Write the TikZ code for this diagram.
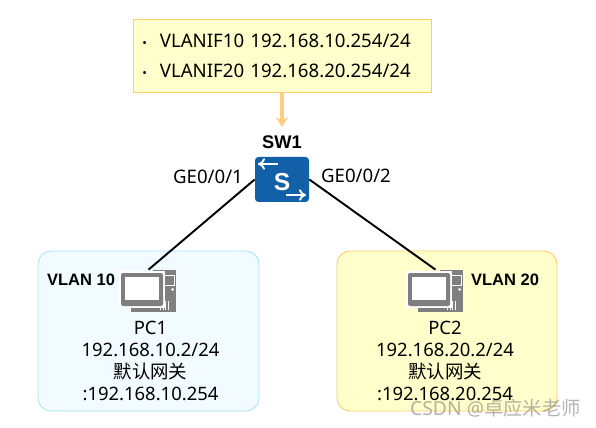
\documentclass[tikz,border=0pt]{standalone}
\usepackage{fontspec}
\usepackage{xcolor}
\usepackage{tikz}
\usetikzlibrary{calc,arrows.meta}
\setmainfont{Noto Sans}
\newfontfamily\cjk{Noto Sans CJK SC}
\newfontfamily\heavy{Liberation Sans}
\definecolor{noteyellow}{HTML}{FFFFCC}
\definecolor{noteedge}{HTML}{FFCC66}
\definecolor{arrowsand}{HTML}{FFCC80}
\definecolor{iceblue}{HTML}{F2FBFF}
\definecolor{iceedge}{HTML}{A8E4FA}
\definecolor{swblue}{HTML}{1260A8}
\definecolor{pcgray}{HTML}{7F7F7F}
\tikzset{
  txt/.style={font=\fontsize{10.6}{12}\selectfont,inner sep=0pt},
  boldtxt/.style={font=\fontsize{9.4}{11}\heavy\bfseries,inner sep=0pt},
  zone/.style={draw,rounded corners=0.26cm,line width=0.5pt,minimum height=3.2cm},
  pcbox/.style={minimum width=1.1cm,minimum height=0.84cm,inner sep=0pt},
  link/.style={black,line width=1.1pt},
  swarrow/.style={white,line width=1.1pt,-{To[length=4pt,width=6.5pt]}},
  pcicon/.pic={
    \fill[pcgray] (0.09,-0.42) rectangle (0.55,0.42);
    \fill[pcgray] (-0.35,-0.42) rectangle (0.09,-0.34);
    \draw[white,line width=0.35pt] (0.24,0.12) rectangle (0.51,0.32);
    \fill[white] (0.48,0.03) circle (0.03);
    \foreach \x in {0.24,0.29,0.34,0.39} \draw[white,line width=0.3pt] (\x,-0.38)--(\x,-0.2);
    \fill[white] (-0.59,-0.34) rectangle (0.33,0.4);
    \fill[pcgray,rounded corners=0.04cm] (-0.55,-0.3) rectangle (0.29,0.36);
    \fill[white] (-0.47,-0.18) rectangle (0.21,0.28);
  }
}
\begin{document}
\begin{tikzpicture}[>=stealth]
  \useasboundingbox (0,0) rectangle (11.92,8.54);
  % config note
  \node[draw=noteedge,fill=noteyellow,line width=0.5pt,minimum height=1.46cm,inner xsep=0.18cm,inner ysep=0pt,
        text width=5.6cm,align=left,font=\fontsize{10.6}{17.2}\selectfont] (note) at (5.645,7.43)
        {{\scriptsize\textbullet}\hspace{0.26cm}VLANIF10 192.168.10.254/24\\{\scriptsize\textbullet}\hspace{0.26cm}VLANIF20 192.168.20.254/24};
  % zones
  \node[zone,fill=iceblue,draw=iceedge,minimum width=4.42cm] (zoneA) at (2.97,1.92) {};
  \node[zone,fill=noteyellow,draw=noteedge,minimum width=4.4cm] (zoneB) at (8.94,1.92) {};
  % switch
  \node[fill=swblue,rounded corners=0.07cm,minimum width=1.08cm,minimum height=0.9cm,inner sep=0pt] (sw) at (5.64,4.95) {};
  \node[text=white,font=\fontsize{14}{14}\heavy\bfseries,inner sep=0pt] (swS) at (5.64,4.9) {S};
  \draw[swarrow] ($(sw)+(-0.08,0.31)$)--($(sw)+(-0.48,0.31)$);
  \draw[swarrow] ($(sw)+(0.08,-0.31)$)--($(sw)+(0.48,-0.31)$);
  \node[boldtxt,font=\fontsize{10.4}{12}\heavy\bfseries] (swname) at (5.64,5.70) {SW1};
  \node[txt] (portA) at (4.16,5.0) {GE0/0/1};
  \node[txt] (portB) at (7.12,5.02) {GE0/0/2};
  % hosts
  \node[pcbox] (pcA) at (2.97,2.72) {};
  \node[pcbox] (pcB) at (8.71,2.72) {};
  \pic at (pcA) {pcicon};
  \pic at (pcB) {pcicon};
  \node[boldtxt] (vlanA) at (1.62,2.94) {VLAN 10};
  \node[boldtxt] (vlanB) at (10.1,2.94) {VLAN 20};
  \node[txt,align=center,font=\fontsize{10.5}{12.35}\selectfont] (addrA) at (3.01,1.32)
       {PC1\\192.168.10.2/24\\{\cjk 默认网关}\\:192.168.10.254};
  \node[txt,align=center,font=\fontsize{10.5}{12.35}\selectfont] (addrB) at (8.9,1.32)
       {PC2\\192.168.20.2/24\\{\cjk 默认网关}\\:192.168.20.254};
  % links
  \coordinate (tip) at (5.64,6.0);
  \draw[arrowsand,line width=2pt,-{Stealth[length=5.5pt,width=7pt]}] (note.south-|tip)--(tip);
  \draw[link] (sw.west)--(pcA.north);
  \draw[link] (sw.east)--(pcB.north);
  \node[txt,text=gray,opacity=0.6,font=\fontsize{11}{12}\selectfont] (mark) at (9.91,0.38) {CSDN @{\cjk 卓应米老师}};
\end{tikzpicture}
\end{document}
